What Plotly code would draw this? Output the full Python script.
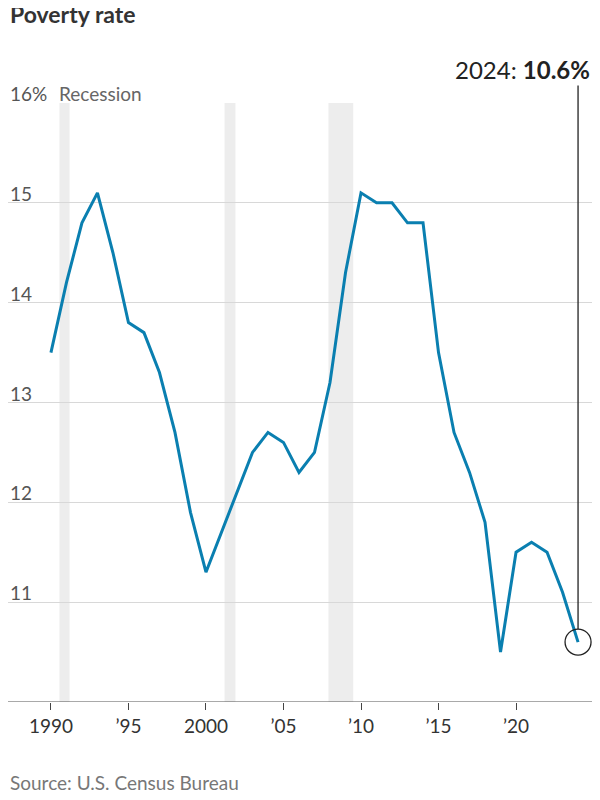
import plotly.graph_objects as go

years = list(range(1990, 2025))
rate = [13.5, 14.2, 14.8, 15.1, 14.5, 13.8, 13.7, 13.3, 12.7, 11.9, 11.3, 11.7, 12.1,
        12.5, 12.7, 12.6, 12.3, 12.5, 13.2, 14.3, 15.1, 15.0, 15.0, 14.8, 14.8, 13.5,
        12.7, 12.3, 11.8, 10.5, 11.5, 11.6, 11.5, 11.1, 10.6]
recessions = [(1990.55, 1991.2), (2001.2, 2001.9), (2007.9, 2009.5)]
tick_years = [1990, 1995, 2000, 2005, 2010, 2015, 2020]
tick_text = ["1990", "’95", "2000", "’05", "’10", "’15", "’20"]
y_ticks = [10, 11, 12, 13, 14, 15, 16]

font = "Lato"
fig = go.Figure()

for x0, x1 in recessions:
    fig.add_vrect(x0=x0, x1=x1, fillcolor="#ededed", line_width=0, layer="below")

fig.add_trace(go.Scatter(x=years, y=rate, mode="lines",
                         line=dict(color="#0a7fb0", width=3), hoverinfo="skip"))
fig.add_trace(go.Scatter(x=[years[-1]], y=[rate[-1]], mode="markers",
                         marker=dict(size=26, color="rgba(0,0,0,0)",
                                     line=dict(color="#222", width=1.3))))
fig.add_shape(type="line", x0=years[-1], x1=years[-1], xref="x", yref="paper",
              y0=(rate[-1] - 10) / 6 + 0.022, y1=1.07, line=dict(color="#222", width=1.3))

for v in y_ticks[1:]:
    fig.add_annotation(x=0, xref="paper", y=v, yref="y", xanchor="left", yanchor="bottom",
                       text=f"{v}%" if v == 16 else str(v), showarrow=False,
                       font=dict(family=font, size=19, color="#555"), yshift=-4)
fig.add_annotation(x=1990.4, y=16, yref="y", xanchor="left", yanchor="bottom", yshift=-4,
                   text="Recession", showarrow=False, font=dict(family=font, size=19, color="#666"))
fig.add_annotation(x=1, xref="paper", y=1.028, yref="paper", xanchor="right", yanchor="bottom",
                   text="2024: <b>10.6%</b>", showarrow=False, bgcolor="white",
                   font=dict(family=font, size=24, color="#222"))
fig.add_annotation(x=0, xref="paper", y=1.122, yref="paper", xanchor="left", yanchor="bottom",
                   text="<b>Poverty rate</b>", showarrow=False,
                   font=dict(family=font, size=23, color="#333"))
fig.add_annotation(x=0, xref="paper", y=-0.112, yref="paper", xanchor="left", yanchor="top",
                   text="Source: U.S. Census Bureau", showarrow=False,
                   font=dict(family=font, size=19, color="#777"))

fig.update_layout(
    width=584, height=784, showlegend=False,
    paper_bgcolor="white", plot_bgcolor="white",
    margin=dict(l=0, r=0, t=95, b=90),
    xaxis=dict(range=[1987.23, 2024.9], tickvals=tick_years, ticktext=tick_text,
               showgrid=False, zeroline=False, ticks="outside", ticklen=7,
               tickcolor="#444", tickfont=dict(family=font, size=19, color="#333")),
    yaxis=dict(range=[10, 16], tickvals=y_ticks, showticklabels=False,
               gridcolor="#d8d8d8", zeroline=False, fixedrange=True),
)
fig.add_hline(y=10, line=dict(color="#555", width=1.2))

fig.write_html("out.html")
